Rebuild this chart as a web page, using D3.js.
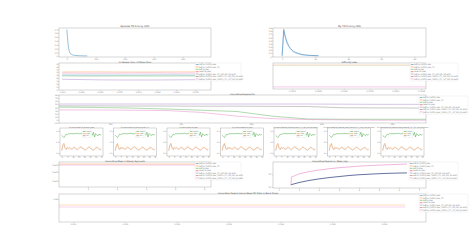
<!DOCTYPE html>
<html><head><meta charset="utf-8">
<script src="https://cdn.jsdelivr.net/npm/d3@7"></script>
<style>body{margin:0;background:#fff}svg{display:block}</style>
</head><body><svg id="c" width="474" height="250"></svg>
<script>
// ---------------- DATA ----------------
const legendNames = ["BATCH_GREEDY_MAX","BATCH_GREEDY_MAX_CTL","BATCH_MAX","RANDOM_MAX",
  "BATCH_GREEDY_MAX_CTL_PRE_PER_RELAXED","BATCH_GREEDY_MAX_GREEDY_CTL_PRE_PER_RELAXED",
  "BATCH_GREEDY_MAX_GREEDY_CTL_OPT_PER_RELAXED"];
const seriesColors = ["#1f77b4","#ff7f0e","#2ca02c","#d62728","#9467bd","#8c564b","#e377c2"];

const titles = ["Episode TD Priority (RD)","My TD Priority (RD)","All Models Conv / Different Nav",
  "Difficulty Index","Cumulative Exponential","Cumulative Steps in Steady Segments",
  "Cumulative Reward vs. Steps (log)","Cumulative Reward Versus Steps PRI Ratio in Block Phase"];

// Panel 1: Episode TD priority
const epTdX = [0,2,4,6,8,10,12,15,20,25,30,40,50,60,70];
const epTdY = [0.70,0.52,0.34,0.22,0.15,0.10,0.07,0.05,0.035,0.025,0.02,0.015,0.012,0.01,0.01];
const p1XTicks = [0,100,200,300,400];
const p1YTicks = [0,0.1,0.2,0.3,0.4,0.5,0.6,0.7];

// Panel 3: My TD priority
const myTdX = [0,1,2,3,4,5,6,7,8,10,12,14,16,18,20,22];
const myTdY = [0.02,0.86,0.62,0.45,0.34,0.26,0.20,0.16,0.13,0.09,0.06,0.045,0.035,0.03,0.025,0.02];
const myTdY2 = [0.02,0.80,0.58,0.42,0.31,0.24,0.18,0.14,0.11,0.08,0.05,0.04,0.03,0.025,0.02,0.02];
const p3XTicks = [0,20,40,60,80];
const p3YTicks = [0,0.1,0.2,0.3,0.4,0.5,0.6,0.7,0.8,0.9];

// Panel 2: conv per model
const p2X = [0,1,2,3,4,5,6,7,7.8];
const p2Orange = [6.1,6.15,6.15,6.1,6.1,6.1,6.15,6.15,6.1];
const p2Pink   = [5.75,5.7,5.7,5.7,5.75,5.75,5.7,5.75,5.75];
const p2Blue   = [5.1,5.05,5.05,5.05,5.05,5.1,5.1,5.05,5.05];
const p2Green  = [4.75,4.7,4.7,4.72,4.72,4.7,4.72,4.75,4.75];
const p2Purple = [3.6,3.5,3.4,3.35,3.35,3.35,3.4,3.45,3.5];
const p2XTicks = [0,1,2,3,4,5,6,7];
const p2XLabels = ["0.000","0.025","0.050","0.075","0.100","0.125","0.150","0.175"];
const p2YTicks = [0,1,2,3,4,5,6,7,8,9];

// Panel 4: difficulty index
const p4X = [-0.74,0,1,2,3,4,5,5.19];
const p4Orange = [0.93,0.93,0.93,0.93,0.93,0.93,0.93,0.93];
const p4Olive  = [0.90,0.90,0.90,0.90,0.90,0.90,0.90,0.90];
const p4Blue   = [0.915,0.915,0.915,0.915,0.915,0.915,0.915,0.915];
const p4Pink   = [0.08,0.08,0.08,0.08,0.08,0.08,0.08,0.08];
const p4XTicks = [0,1,2,3,4,5];
const p4XLabels = ["0.0000","0.0025","0.0050","0.0075","0.0100","0.0125"];

// Panel 5: full width exponential
const p5X = [280,800,1300,1800,2300,2800,3300,3800,4300,4800,5480];
const p5Purple = [51,51,51,51,51,51,51,51,50.5,50,50];
const p5Gray   = [45,45,44.5,44.5,44,44,43.5,43,39,38.5,38];
const p5Green  = [41,40,38,35,31,27,12,3,2,2,2];
const p5Pink   = [32,32,31,30,24,12,4,1,0,-1,-1];
const p5XTicks = [1000,2000,3000,4000,5000];
const p5YTicks = [-10,0,10,20,30,40,50,60,70,80];

// Small multiples (same shape in each)
const smallGreen = [0.74,0.70,0.66,0.72,0.78,0.76,0.80,0.79,0.80,0.80,0.79,0.80,0.80,0.80,0.81,0.80,0.79,0.80,
  0.82,0.78,0.80,0.76,0.84,0.72,0.86,0.70,0.82,0.74,0.85,0.68,0.80,0.76,0.72,0.78,0.75,0.77];
const smallOrange = [0.20,0.40,0.46,0.30,0.24,0.32,0.28,0.31,0.27,0.25,0.30,0.33,0.29,0.26,0.24,0.28,0.32,0.34,
  0.30,0.27,0.25,0.22,0.26,0.30,0.33,0.31,0.27,0.24,0.22,0.25,0.29,0.32,0.30,0.26,0.23,0.25];
const smallGray = [0.18,0.36,0.42,0.27,0.22,0.29,0.26,0.28,0.25,0.23,0.27,0.30,0.27,0.24,0.22,0.25,0.29,0.31,
  0.28,0.25,0.23,0.20,0.24,0.27,0.30,0.29,0.25,0.22,0.20,0.23,0.27,0.29,0.28,0.24,0.21,0.23];
const smallYTicks = [0.1,0.5,0.9];
const smallXTicks = [0,5,10,15,20,25,30,35];
const smallLegend = ["reward","steps","loss"];

// Panel 6
const p6X = [0,1,2,3,4,5,5.24];
const p6Orange = [0.92,0.92,0.92,0.92,0.92,0.92,0.92];
const p6Pink = [0.88,0.88,0.88,0.88,0.88,0.88,0.88];
const p6XTicks = [1,2,3,4,5];
const p6YTicks = [0.24,0.6,0.88];
const p6YLabels = ["1.0e7","1.1e7","1.2e7"];

// Panel 7
const p7X = [0.6,0.62,1.0,1.5,2.0,2.5,3.0,3.5,4.0,4.5,5.0,5.5,6.0,6.4];
const p7Pink = [1.1,4.2,5.4,6.3,6.9,7.4,7.8,8.1,8.4,8.6,8.8,8.95,9.1,9.2];
const p7Navy = [1.1,1.3,2.1,2.9,3.5,4.0,4.4,4.8,5.1,5.3,5.5,5.65,5.75,5.8];
const p7XTicks = [0,1,2,3,4,5,6,7];
const p7YTicks = [0.4,5.3];
const p7YLabels = ["10\u2070","10\u00b9"];

// Panel 8
const p8X = [-0.27,1,2,3,4,5,6,6.41];
const p8Orange = [0.607,0.607,0.607,0.607,0.607,0.607,0.607,0.607];
const p8Pink = [0.536,0.536,0.536,0.536,0.536,0.536,0.536,0.536];
const p8XTicks = [0,1,2,3,4,5,6];
const p8XLabels = ["0.000","0.001","0.002","0.003","0.004","0.005","0.006"];
const p8YTicks = [0.82];

// ---------------- DRAW ----------------
const svg = d3.select("#c");
const FONT = "DejaVu Sans";

function styleAxis(sel, fs){
  sel.attr("font-size", null).attr("font-family", null);
  sel.select(".domain").remove();
  sel.selectAll("line").attr("stroke","#888").attr("stroke-width",0.35);
  sel.selectAll("text").attr("font-size", fs||2.0).attr("fill","#777").attr("font-family",FONT);
}

function panel(c){
  const x = d3.scaleLinear().domain(c.xDomain).range([c.x0,c.x1]);
  const y = d3.scaleLinear().domain(c.yDomain).range([c.y1,c.y0]);
  const g = svg.append("g");
  g.append("rect").attr("x",c.x0).attr("y",c.y0).attr("width",c.x1-c.x0).attr("height",c.y1-c.y0)
    .attr("fill","#fff").attr("stroke","#999").attr("stroke-width",0.4);
  if (c.xTicks){
    const xa = d3.axisBottom(x).tickValues(c.xTicks).tickSize(0.8).tickPadding(0.3)
      .tickFormat((d,i)=> c.xLabels ? c.xLabels[i] : d3.format("~g")(d));
    g.append("g").attr("transform",`translate(0,${c.y1})`).call(xa).call(s=>styleAxis(s,c.xfs||c.fs));
  }
  if (c.yTicks){
    const ya = d3.axisLeft(y).tickValues(c.yTicks).tickSize(0.8).tickPadding(0.4)
      .tickFormat((d,i)=> c.yLabels ? c.yLabels[i] : d3.format("~g")(d));
    g.append("g").attr("transform",`translate(${c.x0},0)`).call(ya).call(s=>styleAxis(s,c.fs));
  }
  const line = d3.line().x(d=>x(d[0])).y(d=>y(d[1]));
  c.series.forEach(s=>{
    g.append("path").datum(s.ys.map((v,i)=>[s.xs[i],v])).attr("d",line)
      .attr("fill","none").attr("stroke",s.color).attr("stroke-width",s.w||0.55).attr("opacity",s.op||0.9);
  });
  if (c.title){
    g.append("text").attr("x", c.tx!=null?c.tx:(c.x0+c.x1)/2).attr("y", c.y0-(c.tdy!=null?c.tdy:0.8))
      .attr("text-anchor","middle")
      .attr("font-size", c.tfs||2.4).attr("font-family",FONT).attr("fill","#444").text(c.title);
  }
  if (c.legend){
    const L = c.legend;
    const lg = g.append("g");
    const h = L.names.length*L.step+1.2;
    lg.append("rect").attr("x",L.x).attr("y",L.y).attr("width",L.w).attr("height",h).attr("rx",0.6)
      .attr("fill","#fff").attr("fill-opacity",0.85).attr("stroke","#ddd").attr("stroke-width",0.3);
    L.names.forEach((n,i)=>{
      const yy = L.y+1.5+i*L.step;
      lg.append("line").attr("x1",L.x+0.8).attr("x2",L.x+3.6).attr("y1",yy).attr("y2",yy)
        .attr("stroke",L.colors[i]).attr("stroke-width",0.5);
      lg.append("text").attr("x",L.x+4.3).attr("y",yy+0.6).attr("font-size",L.fs||1.7)
        .attr("font-family",FONT).attr("fill","#666").text(n);
    });
  }
  return {x,y,g};
}

// P1
panel({x0:59,x1:211,y0:28,y1:57,xDomain:[-27,497],yDomain:[-0.02,0.74],
  xTicks:p1XTicks,yTicks:p1YTicks,title:titles[0],
  series:[{xs:epTdX,ys:epTdY,color:seriesColors[0],w:0.5}]});
// P3
panel({x0:273,x1:426,y0:28,y1:57,xDomain:[-5.5,87],yDomain:[-0.02,0.9],
  xTicks:p3XTicks,yTicks:p3YTicks,title:titles[1],
  series:[{xs:myTdX,ys:myTdY2,color:"#aec7e8",w:0.9},{xs:myTdX,ys:myTdY,color:seriesColors[0],w:0.5}]});
// P2
panel({x0:59,x1:211,y0:63,y1:90,xDomain:[-0.16,7.84],yDomain:[-0.1,9.2],
  xTicks:p2XTicks,xLabels:p2XLabels,yTicks:p2YTicks,title:titles[2],tfs:2.1,tdy:0.5,
  series:[{xs:p2X,ys:p2Orange,color:seriesColors[1],op:0.6},{xs:p2X,ys:p2Pink,color:seriesColors[6],op:0.7},
    {xs:p2X,ys:p2Blue,color:seriesColors[0],op:0.6},{xs:p2X,ys:p2Green,color:seriesColors[2],op:0.6},
    {xs:p2X,ys:p2Purple,color:seriesColors[4],op:0.7}],
  legend:{x:195,y:63,w:46,step:2.4,names:legendNames,colors:seriesColors,fs:1.6}});
// P4
panel({x0:273,x1:426,y0:63,y1:89,xDomain:[-0.74,5.19],yDomain:[0,1],
  xTicks:p4XTicks,xLabels:p4XLabels,title:titles[3],tfs:2.1,tdy:0.5,
  series:[{xs:p4X,ys:p4Olive,color:"#bcbd22",w:0.4,op:0.4},{xs:p4X,ys:p4Blue,color:"#aec7e8",w:0.4,op:0.5},
    {xs:p4X,ys:p4Orange,color:seriesColors[1],w:0.4,op:0.45},{xs:p4X,ys:p4Pink,color:seriesColors[6],w:0.5,op:0.8}],
  legend:{x:410,y:63,w:48,step:2.4,names:legendNames,colors:seriesColors,fs:1.6}});
// P5
panel({x0:59,x1:426,y0:95,y1:123,xDomain:[277,5482],yDomain:[-10,80],
  xTicks:p5XTicks,yTicks:p5YTicks,title:titles[4],xfs:1.6,tfs:2.1,tdy:0.5,
  series:[{xs:p5X,ys:p5Purple,color:seriesColors[4],op:0.7},{xs:p5X,ys:p5Gray,color:"#7f7f7f",op:0.8},
    {xs:p5X,ys:p5Green,color:seriesColors[2],op:0.7},{xs:p5X,ys:p5Pink,color:seriesColors[6],op:0.8}],
  legend:{x:419,y:96,w:49,step:2.4,names:legendNames,colors:seriesColors,fs:1.6}});
// Small multiples
const smallX = smallGreen.map((d,i)=>i);
legendNames.forEach((n,i)=>{
  const x0 = 60 + i*53.5;
  panel({x0:x0,x1:x0+43,y0:128,y1:156,xDomain:[-1.5,36.5],yDomain:[0,1],
    xTicks:smallXTicks,yTicks:smallYTicks,title:"Can Bound "+n,tfs:1.55,tdy:0.4,fs:1.7,
    series:[{xs:smallX,ys:smallGreen,color:seriesColors[2],w:0.5},
      {xs:smallX,ys:smallOrange,color:seriesColors[1],w:0.45,op:0.7},
      {xs:smallX,ys:smallGray,color:"#8c564b",w:0.4,op:0.5}],
    legend:{x:x0+22,y:130,w:10,step:2.1,names:smallLegend,colors:[seriesColors[2],seriesColors[1],"#8c564b"],fs:1.4}});
});
// P6
panel({x0:59,x1:211,y0:162,y1:187,xDomain:[0,5.24],yDomain:[0,1],
  xTicks:p6XTicks,yTicks:p6YTicks,yLabels:p6YLabels,title:titles[5],tx:125,tfs:2.1,tdy:0.5,
  series:[{xs:p6X,ys:p6Orange,color:seriesColors[1],op:0.6},{xs:p6X,ys:p6Pink,color:seriesColors[6],op:0.7}],
  legend:{x:195,y:162,w:46,step:2.4,names:legendNames,colors:seriesColors,fs:1.6}});
// P7
panel({x0:273,x1:426,y0:162,y1:188,xDomain:[-0.3,7.35],yDomain:[0,10],
  xTicks:p7XTicks,yTicks:p7YTicks,yLabels:p7YLabels,title:titles[6],tx:330,tfs:2.1,tdy:0.5,
  series:[{xs:p7X,ys:p7Pink,color:seriesColors[6],w:0.6},{xs:p7X,ys:p7Navy,color:"#2a3a7a",w:0.8}],
  legend:{x:409,y:162,w:49,step:2.4,names:legendNames,colors:seriesColors,fs:1.6}});
// P8
panel({x0:59,x1:426,y0:194,y1:222,xDomain:[-0.27,6.81],yDomain:[0,1],
  xTicks:p8XTicks,xLabels:p8XLabels,yTicks:p8YTicks,title:titles[7],tx:248,tfs:2.1,tdy:0.5,
  series:[{xs:p8X,ys:p8Orange,color:seriesColors[1],op:0.5},{xs:p8X,ys:p8Pink,color:seriesColors[6],op:0.6}],
  legend:{x:419,y:194,w:49,step:2.4,names:legendNames,colors:seriesColors,fs:1.6}});
</script></body></html>
